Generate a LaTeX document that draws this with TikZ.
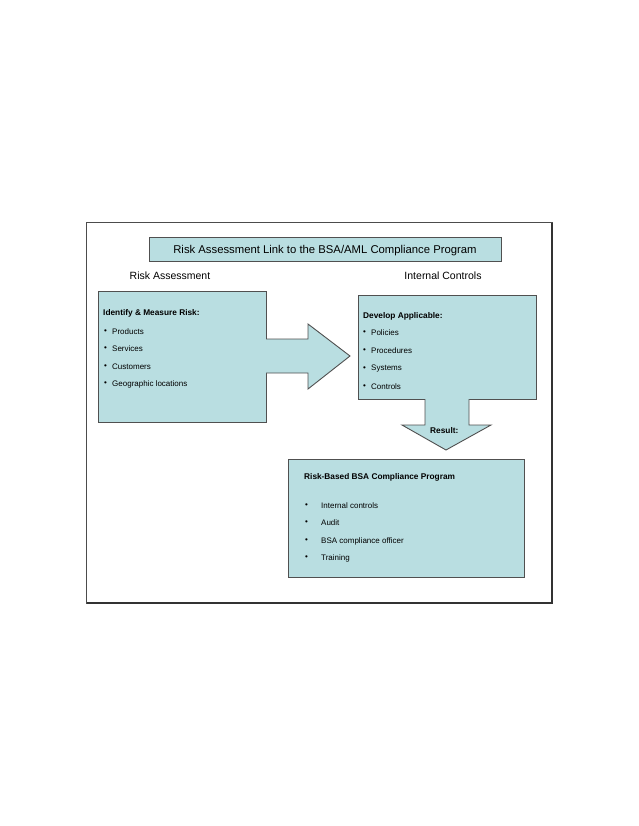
\documentclass[tikz,border=0pt]{standalone}
\usepackage{fontspec}
\setmainfont{Liberation Sans}
\definecolor{boxfill}{HTML}{B9DEE1}
\definecolor{edge}{HTML}{505050}
\begin{document}
\begin{tikzpicture}[x=1pt,y=-1pt,
  box/.style={fill=boxfill,draw=edge,line width=0.9pt},
  head/.style={font=\fontsize{10.5}{12}\selectfont,anchor=center},
  bt/.style={font=\bfseries\fontsize{8.3}{10}\selectfont,anchor=west,inner sep=0},
  it/.style={font=\fontsize{8}{10}\selectfont,anchor=west,inner sep=0}]
\useasboundingbox (0,0) rectangle (638,826);
% frame
\draw[draw=black!70,line width=0.6pt] (86,222) rectangle (552,603);
\draw[black!80,line width=1.4pt] (552,223) -- (552,603) -- (87,603);
% title
\node[box,minimum width=352,minimum height=24,font=\fontsize{11.3}{13}\selectfont,text depth=0] (title) at (325,249) {Risk Assessment Link to the BSA/AML Compliance Program};
\node[head] (ra) at (170,276) {Risk Assessment};
\node[head] (ic) at (443,276) {Internal Controls};
% boxes
\draw[box] (98,291) rectangle (266,422);
\node (lb) at (182,356) {};
\draw[box] (266,339) -- (308,339) -- (308,324) -- (350,356) -- (308,389) -- (308,373) -- (266,373);
\draw[box] (358,295) rectangle (536,399);
\node (rb) at (447,347) {};
\draw[box] (425,399) -- (425,425) -- (402,425) -- (446,450) -- (491,425) -- (469,425) -- (469,399);
\node[bt] (res) at (430,431) {Result:};
\draw[box] (288,459) rectangle (524,577);
\node (bb) at (406,518) {};
% left texts
\node[bt] (l0) at (103,313) {Identify \& Measure Risk:};
\foreach \t/\y/\n in {Products/332/1,Services/349/2,Customers/367/3,Geographic locations/384/4}{
  \node[it] (lbul\n) at (104,\y) {\textbullet};
  \node[it] (l\n) at (112,\y) {\t};}
\node[bt] (r0) at (363,316) {Develop Applicable:};
\foreach \t/\y/\n in {Policies/333/1,Procedures/351/2,Systems/369/3,Controls/387/4}{
  \node[it] (rbul\n) at (363,\y) {\textbullet};
  \node[it] (r\n) at (371,\y) {\t};}
\node[bt] (b0) at (304,477) {Risk-Based BSA Compliance Program};
\foreach \t/\y/\n in {Internal controls/506/1,Audit/523/2,BSA compliance officer/541/3,Training/558/4}{
  \node[it] (bbul\n) at (305,\y) {\textbullet};
  \node[it] (b\n) at (321,\y) {\t};}
\end{tikzpicture}
\end{document}
